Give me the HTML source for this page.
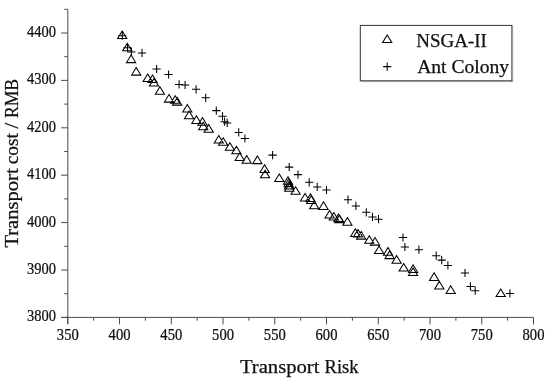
<!DOCTYPE html>
<html><head><meta charset="utf-8"><style>
html,body{margin:0;padding:0;background:#fff;}
svg{display:block;}
text{font-family:"Liberation Serif",serif;fill:#111;stroke:#111;stroke-width:0.25px;}
</style></head><body>
<svg width="550" height="383" viewBox="0 0 550 383">
<rect width="550" height="383" fill="#fff"/>
<g stroke="#4a4a4a" stroke-width="1" fill="none">
<path d="M67.8 9.3V323.8M61.2 317.4H533.5"/>
<path d="M67.80 317.4v7.0M93.67 317.4v3.3M119.54 317.4v7.0M145.42 317.4v3.3M171.29 317.4v7.0M197.16 317.4v3.3M223.03 317.4v7.0M248.91 317.4v3.3M274.78 317.4v7.0M300.65 317.4v3.3M326.52 317.4v7.0M352.39 317.4v3.3M378.27 317.4v7.0M404.14 317.4v3.3M430.01 317.4v7.0M455.88 317.4v3.3M481.76 317.4v7.0M507.63 317.4v3.3M533.50 317.4v7.0M67.8 317.40h-6.7M67.8 293.70h-3.6M67.8 270.00h-6.7M67.8 246.30h-3.6M67.8 222.60h-6.7M67.8 198.90h-3.6M67.8 175.20h-6.7M67.8 151.50h-3.6M67.8 127.80h-6.7M67.8 104.10h-3.6M67.8 80.40h-6.7M67.8 56.70h-3.6M67.8 33.00h-6.7M67.8 9.30h-3.6"/>
</g>
<g font-size="15.8">
<text transform="translate(67.80 339.9) scale(0.925 1)" text-anchor="middle">350</text><text transform="translate(119.54 339.9) scale(0.925 1)" text-anchor="middle">400</text><text transform="translate(171.29 339.9) scale(0.925 1)" text-anchor="middle">450</text><text transform="translate(223.03 339.9) scale(0.925 1)" text-anchor="middle">500</text><text transform="translate(274.78 339.9) scale(0.925 1)" text-anchor="middle">550</text><text transform="translate(326.52 339.9) scale(0.925 1)" text-anchor="middle">600</text><text transform="translate(378.27 339.9) scale(0.925 1)" text-anchor="middle">650</text><text transform="translate(430.01 339.9) scale(0.925 1)" text-anchor="middle">700</text><text transform="translate(481.76 339.9) scale(0.925 1)" text-anchor="middle">750</text><text transform="translate(533.50 339.9) scale(0.925 1)" text-anchor="middle">800</text>
<text transform="translate(56.0 321.35) scale(0.915 1)" text-anchor="end">3800</text><text transform="translate(56.0 273.95) scale(0.915 1)" text-anchor="end">3900</text><text transform="translate(56.0 226.55) scale(0.915 1)" text-anchor="end">4000</text><text transform="translate(56.0 179.15) scale(0.915 1)" text-anchor="end">4100</text><text transform="translate(56.0 131.75) scale(0.915 1)" text-anchor="end">4200</text><text transform="translate(56.0 84.35) scale(0.915 1)" text-anchor="end">4300</text><text transform="translate(56.0 36.95) scale(0.915 1)" text-anchor="end">4400</text>
</g>
<g font-size="19"><text x="239.9" y="373.0" textLength="79.6" lengthAdjust="spacingAndGlyphs">Transport</text>
<text x="324.6" y="373.0" textLength="34" lengthAdjust="spacingAndGlyphs">Risk</text></g>
<g transform="translate(17.6 0) rotate(-90)" font-size="19">
<text x="-247.6" y="0" textLength="79.2" lengthAdjust="spacingAndGlyphs">Transport</text>
<text x="-164.3" y="0" textLength="31.2" lengthAdjust="spacingAndGlyphs">cost</text>
<text x="-128.6" y="0" textLength="5.8" lengthAdjust="spacingAndGlyphs">/</text>
<text x="-118.1" y="0" textLength="39.2" lengthAdjust="spacingAndGlyphs">RMB</text>
</g>
<g stroke="#000" stroke-width="1.05" fill="none">
<path d="M122.20 30.90L117.60 38.50H126.80ZM127.30 43.20L122.70 50.80H131.90ZM131.10 55.00L126.50 62.60H135.70ZM136.20 67.50L131.60 75.10H140.80ZM147.70 73.90L143.10 81.50H152.30ZM152.50 74.90L147.90 82.50H157.10ZM154.00 78.40L149.40 86.00H158.60ZM159.90 86.70L155.30 94.30H164.50ZM169.00 94.50L164.40 102.10H173.60ZM175.20 95.70L170.60 103.30H179.80ZM177.20 97.50L172.60 105.10H181.80ZM187.30 104.40L182.70 112.00H191.90ZM189.10 111.10L184.50 118.70H193.70ZM196.40 115.80L191.80 123.40H201.00ZM202.50 117.60L197.90 125.20H207.10ZM203.20 122.20L198.60 129.80H207.80ZM208.70 124.60L204.10 132.20H213.30ZM218.80 135.40L214.20 143.00H223.40ZM223.20 137.70L218.60 145.30H227.80ZM229.90 142.70L225.30 150.30H234.50ZM236.40 146.20L231.80 153.80H241.00ZM239.70 152.80L235.10 160.40H244.30ZM246.70 155.60L242.10 163.20H251.30ZM257.40 156.00L252.80 163.60H262.00ZM264.60 164.80L260.00 172.40H269.20ZM265.10 170.20L260.50 177.80H269.70ZM279.30 173.90L274.70 181.50H283.90ZM288.00 176.70L283.40 184.30H292.60ZM288.60 179.00L284.00 186.60H293.20ZM289.10 181.30L284.50 188.90H293.70ZM289.30 183.60L284.70 191.20H293.90ZM295.60 186.70L291.00 194.30H300.20ZM305.00 193.40L300.40 201.00H309.60ZM310.50 193.80L305.90 201.40H315.10ZM311.20 195.80L306.60 203.40H315.80ZM314.20 201.20L309.60 208.80H318.80ZM323.50 201.80L318.90 209.40H328.10ZM329.60 210.40L325.00 218.00H334.20ZM333.80 212.40L329.20 220.00H338.40ZM338.50 214.00L333.90 221.60H343.10ZM339.50 215.10L334.90 222.70H344.10ZM347.40 217.60L342.80 225.20H352.00ZM355.30 228.80L350.70 236.40H359.90ZM358.00 229.40L353.40 237.00H362.60ZM361.20 231.50L356.60 239.10H365.80ZM369.30 235.70L364.70 243.30H373.90ZM375.00 237.50L370.40 245.10H379.60ZM379.10 245.90L374.50 253.50H383.70ZM388.00 247.60L383.40 255.20H392.60ZM389.60 251.00L385.00 258.60H394.20ZM396.60 255.60L392.00 263.20H401.20ZM403.70 263.40L399.10 271.00H408.30ZM413.10 264.80L408.50 272.40H417.70ZM413.10 267.90L408.50 275.50H417.70ZM434.10 272.80L429.50 280.40H438.70ZM439.30 281.30L434.70 288.90H443.90ZM450.70 285.80L446.10 293.40H455.30ZM500.70 288.90L496.10 296.50H505.30Z"/>
<path d="M118.20 35.70H126.40M122.30 31.60V39.80M123.40 47.70H131.60M127.50 43.60V51.80M127.30 51.90H135.50M131.40 47.80V56.00M137.90 53.00H146.10M142.00 48.90V57.10M152.50 69.00H160.70M156.60 64.90V73.10M164.50 74.50H172.70M168.60 70.40V78.60M175.00 84.40H183.20M179.10 80.30V88.50M181.00 85.00H189.20M185.10 80.90V89.10M192.00 89.30H200.20M196.10 85.20V93.40M201.60 97.80H209.80M205.70 93.70V101.90M212.20 110.60H220.40M216.30 106.50V114.70M218.40 116.30H226.60M222.50 112.20V120.40M220.50 121.70H228.70M224.60 117.60V125.80M223.10 122.90H231.30M227.20 118.80V127.00M234.60 132.40H242.80M238.70 128.30V136.50M240.80 138.50H249.00M244.90 134.40V142.60M268.50 155.10H276.70M272.60 151.00V159.20M285.10 167.10H293.30M289.20 163.00V171.20M293.90 174.60H302.10M298.00 170.50V178.70M305.10 182.30H313.30M309.20 178.20V186.40M313.10 186.90H321.30M317.20 182.80V191.00M322.40 190.00H330.60M326.50 185.90V194.10M343.90 199.70H352.10M348.00 195.60V203.80M351.80 205.90H360.00M355.90 201.80V210.00M362.20 212.30H370.40M366.30 208.20V216.40M368.40 216.90H376.60M372.50 212.80V221.00M374.40 219.20H382.60M378.50 215.10V223.30M398.90 237.50H407.10M403.00 233.40V241.60M400.80 247.00H409.00M404.90 242.90V251.10M414.80 249.70H423.00M418.90 245.60V253.80M432.10 255.70H440.30M436.20 251.60V259.80M437.60 260.10H445.80M441.70 256.00V264.20M443.80 265.40H452.00M447.90 261.30V269.50M460.90 273.00H469.10M465.00 268.90V277.10M466.30 286.40H474.50M470.40 282.30V290.50M471.10 290.70H479.30M475.20 286.60V294.80M505.80 293.40H514.00M509.90 289.30V297.50"/>
</g>
<rect x="360.3" y="25.4" width="151.6" height="55.4" fill="none" stroke="#333" stroke-width="1"/>
<path d="M512.6 26V81.6H361" fill="none" stroke="#999" stroke-width="1"/>
<g stroke="#000" stroke-width="1.05" fill="none">
<path d="M387.20 34.90L382.60 42.50H391.80Z"/>
<path d="M383.10 66.60H391.30M387.20 62.50V70.70"/>
</g>
<text x="416.3" y="47.0" font-size="19" textLength="70.6" lengthAdjust="spacingAndGlyphs">NSGA-II</text>
<text x="417.2" y="73.1" font-size="19" textLength="91.8" lengthAdjust="spacingAndGlyphs">Ant Colony</text>
</svg>
</body></html>
